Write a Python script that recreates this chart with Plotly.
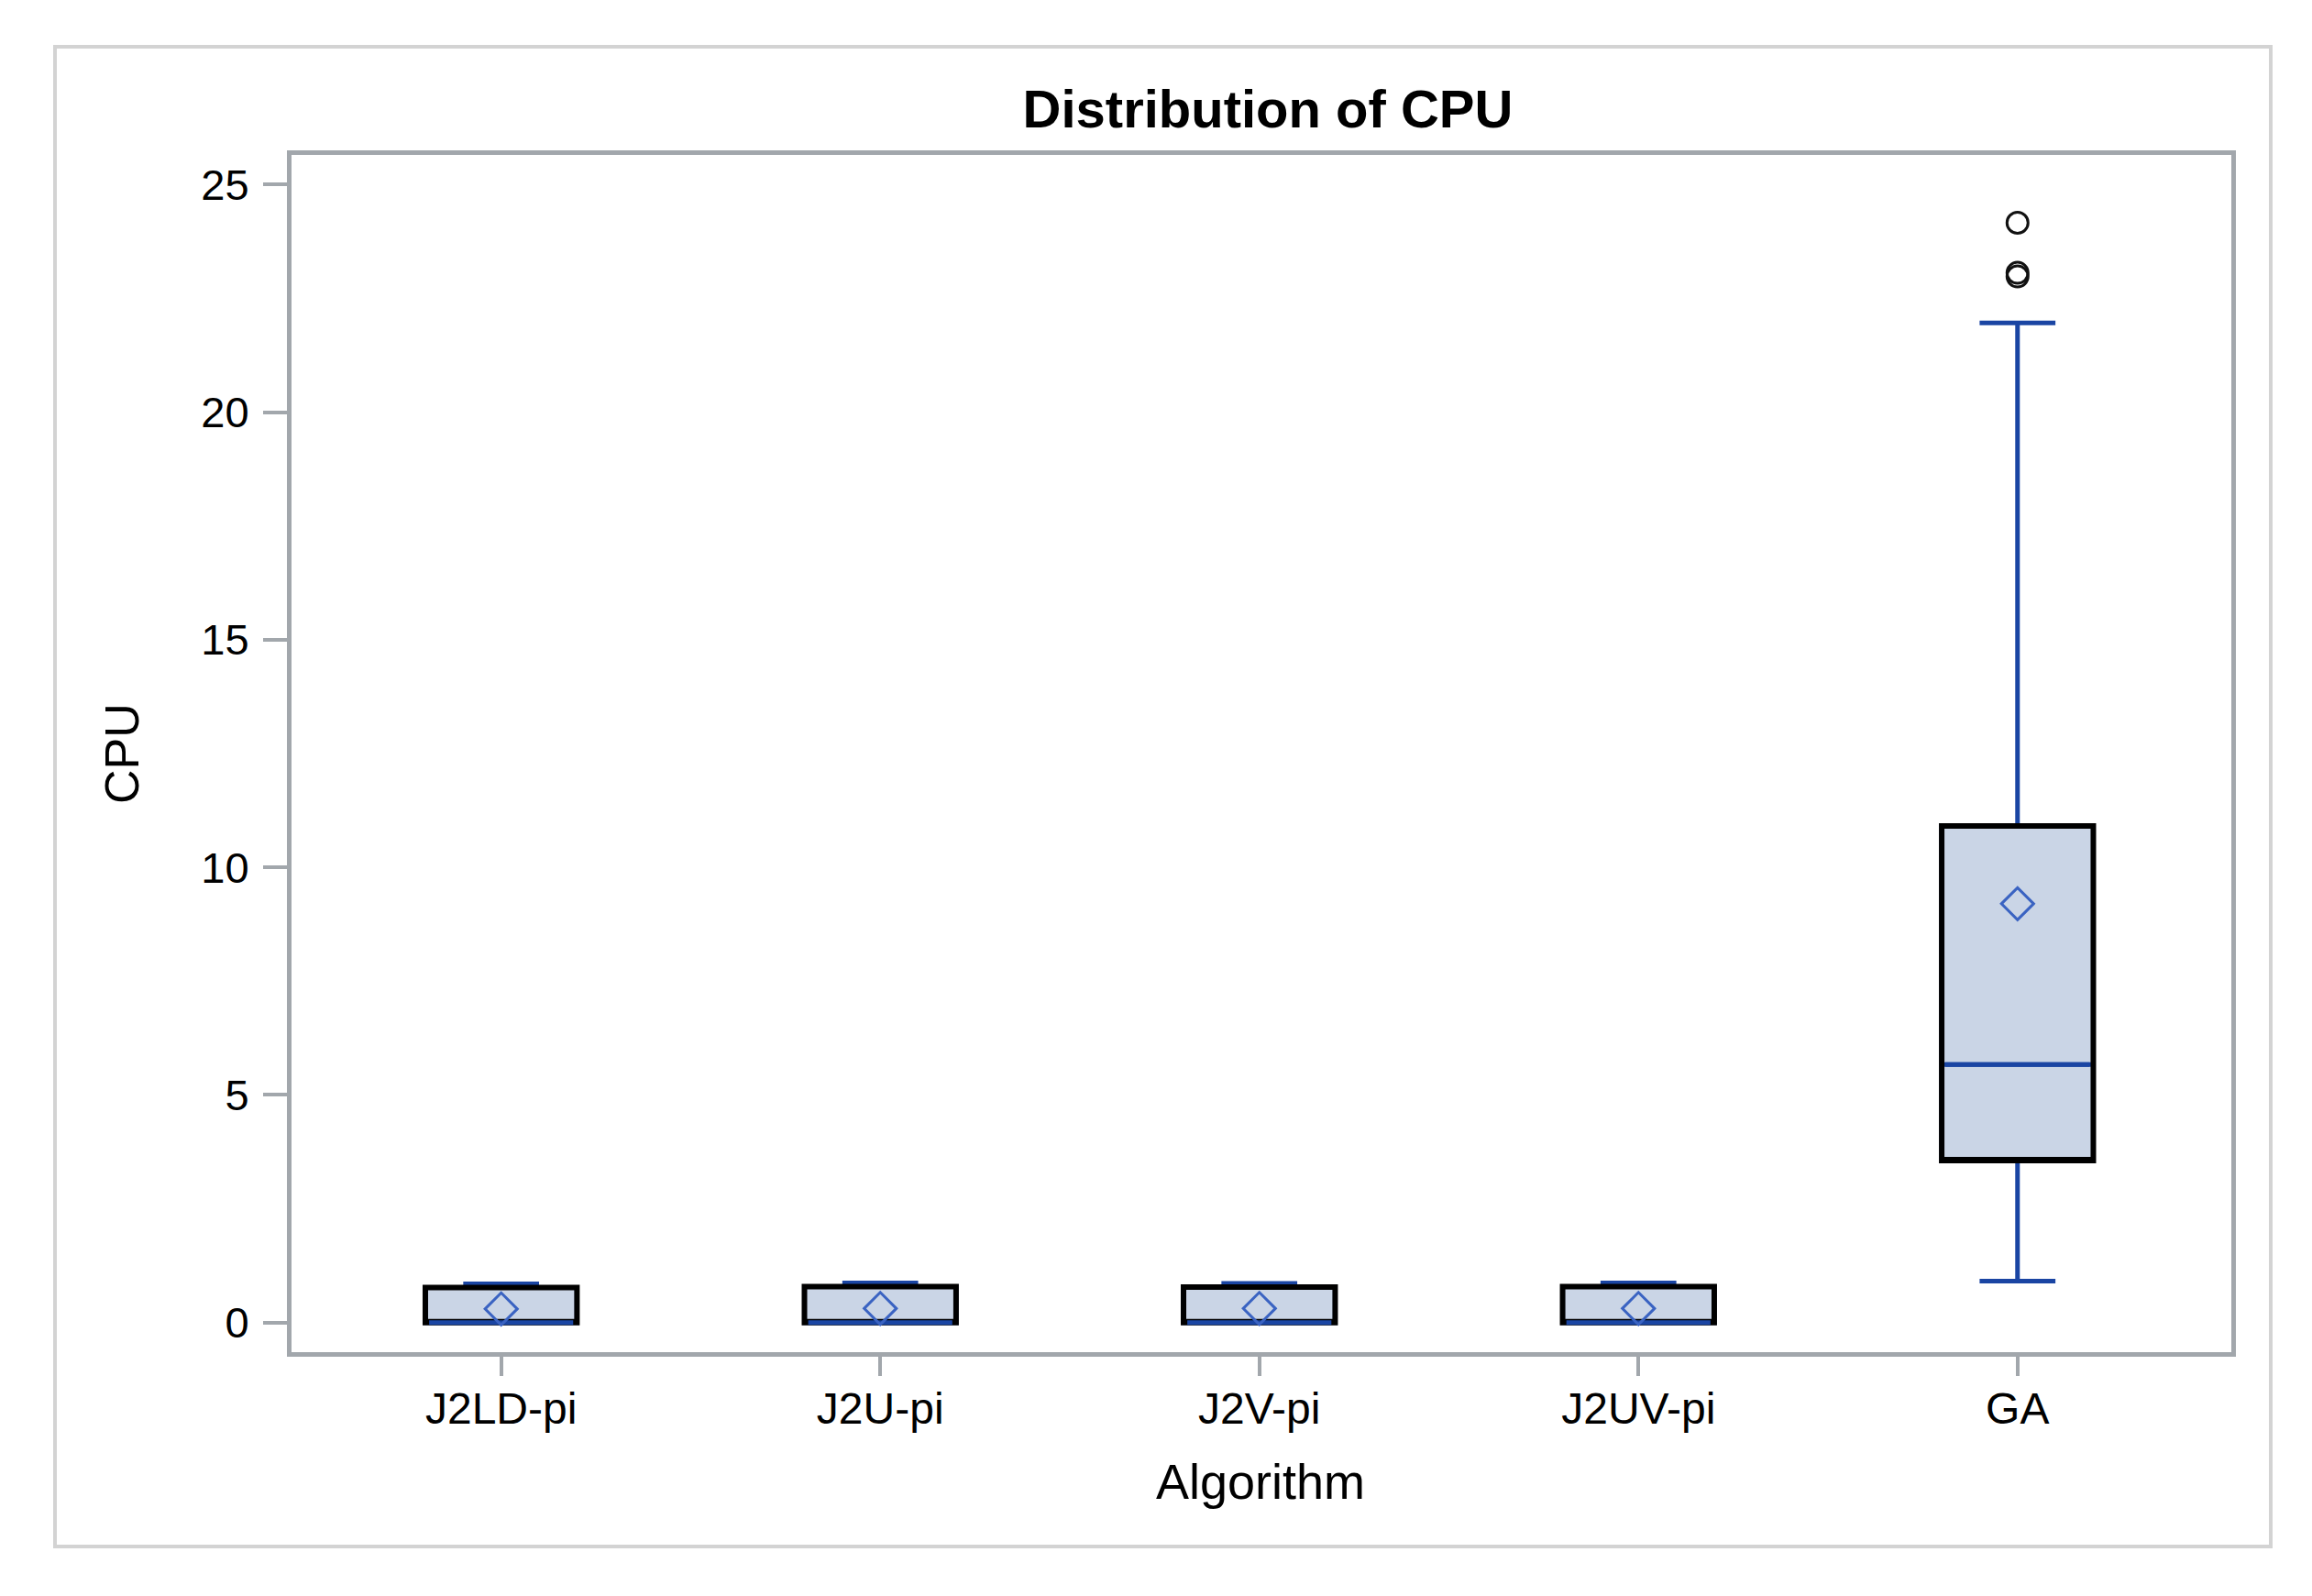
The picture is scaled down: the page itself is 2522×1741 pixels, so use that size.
import plotly.graph_objects as go

# ---- data ----
algorithms = ["J2LD-pi", "J2U-pi", "J2V-pi", "J2UV-pi", "GA"]
q1_vals = [0.0, 0.0, 0.0, 0.0, 3.56]
median_vals = [0.0, 0.0, 0.0, 0.0, 5.67]
q3_vals = [0.77, 0.79, 0.78, 0.79, 10.91]
lower_whisker = [0.0, 0.0, 0.0, 0.0, 0.91]
upper_whisker = [0.85, 0.87, 0.86, 0.87, 21.96]
mean_vals = [0.30, 0.31, 0.31, 0.31, 9.20]
outlier_cat = ["GA", "GA", "GA"]
outlier_vals = [24.16, 23.06, 22.98]
y_ticks = [0, 5, 10, 15, 20, 25]

# ---- styles ----
FONT = "Liberation Sans, Arial, sans-serif"
BLUE = "#1A45A3"
MEAN_BLUE = "#3A63C2"
FILL = "#CAD5E6"
AXIS_GRAY = "#A2A7AC"
BOX_W = 0.4

fig = go.Figure()

# full box: fill, blue whiskers
fig.add_trace(go.Box(
    x=algorithms, q1=q1_vals, median=median_vals, q3=q3_vals,
    lowerfence=lower_whisker, upperfence=upper_whisker,
    fillcolor=FILL, line=dict(color=BLUE, width=5),
    whiskerwidth=0.5, width=BOX_W, boxpoints=False, showlegend=False,
    hoverinfo="skip",
))
# black box outline
fig.add_trace(go.Box(
    x=algorithms, q1=q1_vals, median=q1_vals, q3=q3_vals,
    lowerfence=q1_vals, upperfence=q3_vals,
    fillcolor="rgba(0,0,0,0)", line=dict(color="#000000", width=6),
    whiskerwidth=0, width=BOX_W, boxpoints=False, showlegend=False,
    hoverinfo="skip",
))
# blue median line on top
fig.add_trace(go.Box(
    x=algorithms, q1=median_vals, median=median_vals, q3=median_vals,
    lowerfence=median_vals, upperfence=median_vals,
    fillcolor="rgba(0,0,0,0)", line=dict(color=BLUE, width=5),
    whiskerwidth=0, width=BOX_W * 0.95, boxpoints=False, showlegend=False,
    hoverinfo="skip",
))
# means
fig.add_trace(go.Scatter(
    x=algorithms, y=mean_vals, mode="markers",
    marker=dict(symbol="diamond-open", size=27, color=MEAN_BLUE,
                line=dict(color=MEAN_BLUE, width=3)),
    showlegend=False, hoverinfo="skip",
))
# outliers
fig.add_trace(go.Scatter(
    x=outlier_cat, y=outlier_vals, mode="markers",
    marker=dict(symbol="circle-open", size=23, color="#111111",
                line=dict(color="#111111", width=3)),
    showlegend=False, hoverinfo="skip",
))

OFF = 8  # default page body margin
SW, SH = 2522, 1741
W, H = SW - OFF, SH - OFF
# plot area in screen pixels
PX0, PX1, PY0, PY1 = 318, 2434, 169, 1475
ML, MT = PX0 - OFF, PY0 - OFF
MR = W - (PX1 - OFF)
MB = H - (PY1 - OFF)
PW, PH = PX1 - PX0, PY1 - PY0

def px_x(sx):
    return (sx - PX0) / PW

def px_y(sy):
    return (PY1 - sy) / PH

fig.update_layout(
    width=W, height=H,
    margin=dict(l=ML, r=MR, t=MT, b=MB, pad=0),
    paper_bgcolor="white", plot_bgcolor="white",
    boxmode="overlay",
    font=dict(family=FONT, color="#000000"),
    title=dict(text="<b>Distribution of CPU</b>", x=px_x(1383), xref="paper",
               xanchor="center", y=1 - (119 - OFF) / H, yref="container",
               yanchor="middle", font=dict(family=FONT, size=58, color="#000000")),
    xaxis=dict(
        type="category", categoryorder="array", categoryarray=algorithms,
        range=[-0.553, 4.564], showgrid=False, zeroline=False,
        showline=True, linecolor=AXIS_GRAY, linewidth=5, mirror=True,
        ticks="outside", ticklen=21, tickwidth=4, tickcolor=AXIS_GRAY,
        tickfont=dict(family=FONT, size=48, color="#000000"),
        ticklabelstandoff=-6,
    ),
    yaxis=dict(
        range=[-0.65, 25.65], tickvals=y_ticks, showgrid=False, zeroline=False,
        showline=True, linecolor=AXIS_GRAY, linewidth=5, mirror=True,
        ticks="outside", ticklen=26, tickwidth=4, tickcolor=AXIS_GRAY,
        tickfont=dict(family=FONT, size=47, color="#000000"),
        ticklabelstandoff=6,
    ),
    annotations=[
        dict(text="Algorithm", xref="paper", yref="paper", x=px_x(1375),
             y=px_y(1616), xanchor="center", yanchor="middle",
             showarrow=False, font=dict(family=FONT, size=54, color="#000000")),
        dict(text="CPU", xref="paper", yref="paper", x=px_x(133), y=px_y(822),
             xanchor="center", yanchor="middle", textangle=-90,
             showarrow=False, font=dict(family=FONT, size=52, color="#000000")),
    ],
    shapes=[
        dict(type="rect", xref="paper", yref="paper",
             x0=px_x(60), x1=px_x(2477), y0=px_y(1687), y1=px_y(51),
             line=dict(color="#D3D3D3", width=4), fillcolor="rgba(0,0,0,0)",
             layer="below"),
    ],
)

fig.write_html("out.html")
